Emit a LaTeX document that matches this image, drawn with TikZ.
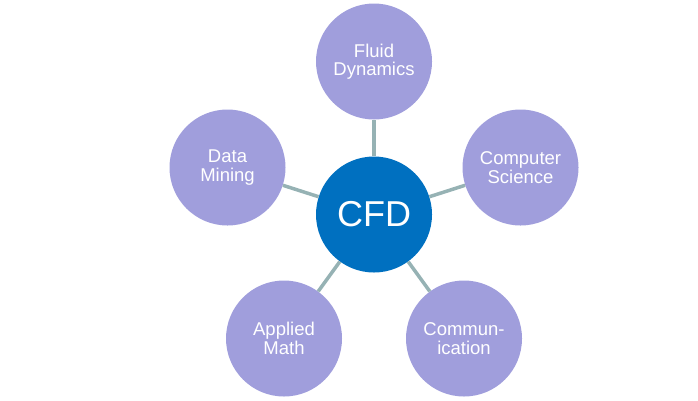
\documentclass[tikz,border=0pt]{standalone}
\usepackage{fontspec}
\setmainfont{Liberation Sans}
\definecolor{petal}{RGB}{160,158,220}
\definecolor{hub}{RGB}{0,112,192}
\definecolor{conn}{RGB}{150,178,180}
\begin{document}
\begin{tikzpicture}[x=1pt,y=-1pt,
  petalnode/.style={circle,fill=petal,minimum size=116pt,inner sep=0pt,text=white,align=center,font=\fontsize{18.5}{18.5}\selectfont},
  hubnode/.style={circle,fill=hub,minimum size=116pt,inner sep=0pt,text=white,font=\fontsize{36}{36}\selectfont},
  link/.style={draw=conn,line width=3.5pt}]
\useasboundingbox (0,0) rectangle (698,400);
\node[hubnode] (cfd) at (374,214.5) {CFD};
\node[petalnode] (fluid) at (374,61.5) {Fluid\\Dynamics};
\node[petalnode] (comp) at (520.5,167.5) {Computer\\Science};
\node[petalnode] (data) at (227.5,167.5) {Data\\Mining};
\node[petalnode] (math) at (284,338.5) {Applied\\Math};
\node[petalnode] (comm) at (464,338.5) {Commun-\\ication};
\foreach \n in {fluid,comp,data,math,comm}{
  \draw[link] (cfd) -- (\n);
}
\end{tikzpicture}
\end{document}
